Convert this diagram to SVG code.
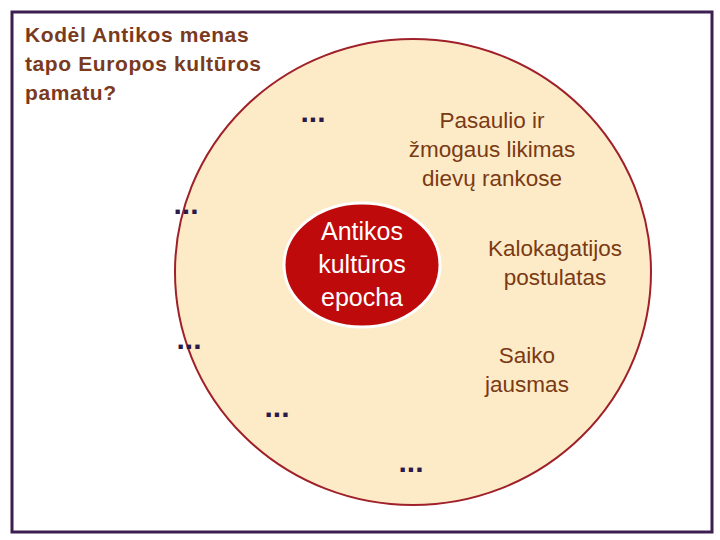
<svg xmlns="http://www.w3.org/2000/svg" width="720" height="540" viewBox="0 0 720 540">
<style>
.t{font-family:"Liberation Sans",Arial,sans-serif;fill:#7a3a14;font-size:22.5px;text-anchor:middle}
.h{font-family:"Liberation Sans",Arial,sans-serif;fill:#7a3a1e;font-size:21px;font-weight:bold;letter-spacing:0.6px}
.d{font-family:"Liberation Sans",Arial,sans-serif;fill:#2a1a4a;font-size:30px;font-weight:bold;text-anchor:middle}
</style>
<rect x="0" y="0" width="720" height="540" fill="#fff"/>
<rect x="12" y="12" width="700" height="520" fill="#fff" stroke="#3a1f50" stroke-width="3"/>
<g id="outer">
<ellipse cx="413" cy="272" rx="238" ry="233" fill="#fdebc8" stroke="#a0202a" stroke-width="2"/>
</g>
<g id="title"><text x="25" y="42" class="h">Kodėl Antikos menas</text>
<text x="25" y="71" class="h">tapo Europos kultūros</text>
<text x="25" y="100" class="h">pamatu?</text></g>
<g id="center">
<ellipse cx="362" cy="265" rx="78" ry="62" fill="#be0a0a" stroke="#fff" stroke-width="3"/>
<text class="t" style="fill:#fff;font-size:25px" x="362" y="240">Antikos</text>
<text class="t" style="fill:#fff;font-size:25px" x="362" y="273">kultūros</text>
<text class="t" style="fill:#fff;font-size:25px" x="362" y="306">epocha</text>
</g>
<g id="n1"><text class="t" x="492" y="128">Pasaulio ir</text><text class="t" x="492" y="157">žmogaus likimas</text><text class="t" x="492" y="186">dievų rankose</text></g>
<g id="n2"><text class="t" x="555" y="256">Kalokagatijos</text><text class="t" x="555" y="285">postulatas</text></g>
<g id="n3"><text class="t" x="527" y="363">Saiko</text><text class="t" x="527" y="392">jausmas</text></g>
<g id="dots">
<text class="d" x="313" y="122">...</text>
<text class="d" x="186" y="214">...</text>
<text class="d" x="189" y="349">...</text>
<text class="d" x="277" y="417">...</text>
<text class="d" x="411" y="472">...</text>
</g>
<g id="connectors"/>
</svg>
